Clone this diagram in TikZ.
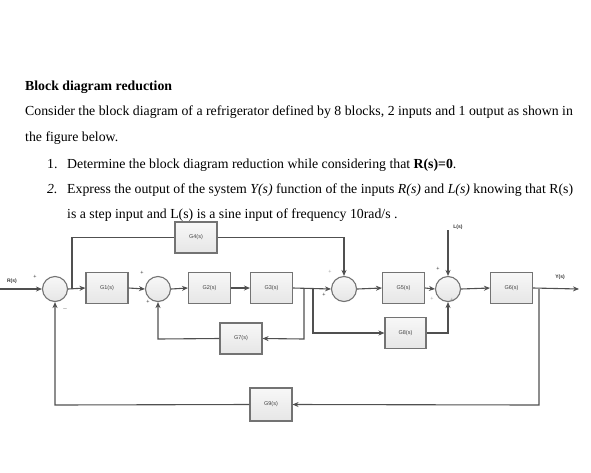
\documentclass[tikz,border=0pt]{standalone}
\usepackage{fontspec}
\setmainfont{Liberation Serif}
\newfontfamily\diagfont{Liberation Sans}
\usetikzlibrary{arrows.meta}
\definecolor{boxline}{RGB}{115,115,115}
\definecolor{boxfill}{RGB}{230,230,230}
\definecolor{wire}{RGB}{80,80,80}
\tikzset{
  blk/.style={draw=boxline, line width=1.1pt, top color=white!97!black, bottom color=boxfill, minimum width=42pt, minimum height=31pt, inner sep=0pt, font=\diagfont\fontsize{5.5}{6}\selectfont, text=black!75},
  sumc/.style={circle, draw=boxline, line width=1.1pt, top color=white!97!black, bottom color=boxfill, minimum size=25pt, inner sep=0pt},
  wr/.style={draw=wire, line width=1.1pt},
  ar/.style={wr, -{Stealth[length=6pt,width=5pt,fill=black!85]}},
  sig/.style={font=\diagfont\fontsize{5.5}{5.5}\selectfont, text=black!80, inner sep=0pt},
  lab/.style={font=\diagfont\bfseries\fontsize{5}{5.5}\selectfont, text=black!80, inner sep=0pt},
  txt/.style={anchor=base west, inner sep=0pt, font=\fontsize{13.8}{15}\selectfont}
}
\begin{document}
\begin{tikzpicture}[x=1pt,y=-1pt]
\useasboundingbox[fill=white] (0,0) rectangle (591,472);
% text
\node[txt, font=\fontsize{13.8}{15}\selectfont\bfseries] (t0) at (25,90) {Block diagram reduction};
\node[txt] (t1) at (25,115) {Consider the block diagram of a refrigerator defined by 8 blocks, 2 inputs and 1 output as shown in};
\node[txt] (t2) at (25,141) {the figure below.};
\node[txt] (n1) at (47,168) {1.};
\node[txt] (t3) at (67,168) {Determine the block diagram reduction while considering that \textbf{R(s)=0}.};
\node[txt] (n2) at (47,193) {\textit{2.}};
\node[txt] (t4) at (67,193) {Express the output of the system \textit{Y(s)} function of the inputs \textit{R(s)} and \textit{L(s)} knowing that R(s)};
\node[txt] (t5) at (67,218) {is a step input and L(s) is a sine input of frequency 10rad/s .};
% blocks
\node[sumc] (s1) at (55,289) {};
\node[blk] (g1) at (107,288) {G1(s)};
\node[sumc] (s2) at (158,289) {};
\node[blk] (g2) at (209.5,288) {G2(s)};
\node[blk] (g3) at (271.5,288) {G3(s)};
\node[blk] (g4) at (196,237.5) {G4(s)};
\node[sumc] (s3) at (344,289) {};
\node[blk] (g5) at (403.5,288) {G5(s)};
\node[sumc] (s4) at (448,289) {};
\node[blk] (g6) at (511.5,288) {G6(s)};
\node[blk] (g7) at (241,338.5) {G7(s)};
\node[blk, minimum width=41pt] (g8) at (405.5,333) {G8(s)};
\node[blk, minimum height=33pt] (g9) at (271,404.5) {G9(s)};
% coordinates
\coordinate (rin) at (0,289);
\coordinate (b1) at (72,289);
\coordinate (b1u) at (72,237.5);
\coordinate (g4r) at (344,237.5);
\coordinate (b3) at (304,289);
\coordinate (b3d) at (304,339);
\coordinate (g7l) at (158,339);
\coordinate (b4) at (313,289);
\coordinate (b4d) at (313,333);
\coordinate (g8r) at (448,333);
\coordinate (lin) at (448,230);
\coordinate (yout) at (579,289);
\coordinate (b6) at (539,289);
\coordinate (b6d) at (539,405);
\coordinate (g9l) at (55,405);
% connectors
\draw[ar] (rin) -- (s1.west);
\draw[ar] (s1.east) -- (g1.west);
\draw[wr] (b1) -- (b1u) -- (g4.west);
\draw[ar] (g4.east) -- (g4r) -- (s3.north);
\draw[ar] (g1.east) -- (s2.west);
\draw[ar] (s2.east) -- (g2.west);
\draw[ar] (g2.east) -- (g3.west);
\draw[ar] (g3.east) -- (s3.west);
\draw[ar] (b3) -- (b3d) -- (g7.east);
\draw[ar] (g7.west) -- (g7l) -- (s2.south);
\draw[ar] (b4) -- (b4d) -- (g8.west);
\draw[ar] (g8.east) -- (g8r) -- (s4.south);
\draw[ar] (s3.east) -- (g5.west);
\draw[ar] (g5.east) -- (s4.west);
\draw[ar] (lin) -- (s4.north);
\draw[ar] (s4.east) -- (g6.west);
\draw[ar] (g6.east) -- (yout);
\draw[ar] (b6) -- (b6d) -- (g9.east);
\draw[ar] (g9.west) -- (g9l) -- (s1.south);
% labels
\node[lab] (lr) at (12,281) {R(s)};
\node[lab] (ll) at (458,227) {L(s)};
\node[lab] (ly) at (560,277) {Y(s)};
\node[sig] (p1) at (35,277) {+};
\node[sig] (m1) at (65,309) {$-$};
\node[sig] (p2) at (142,273) {+};
\node[sig] (p3) at (148,302) {+};
\node[sig, text=black!35] (p4) at (330,272) {+};
\node[sig] (p5) at (324,295) {+};
\node[sig] (p6) at (438,269) {+};
\node[sig, text=black!35] (p7) at (432,299) {+};
\node[sig, text=black!45] (p8) at (452,300) {+};
\end{tikzpicture}
\end{document}
